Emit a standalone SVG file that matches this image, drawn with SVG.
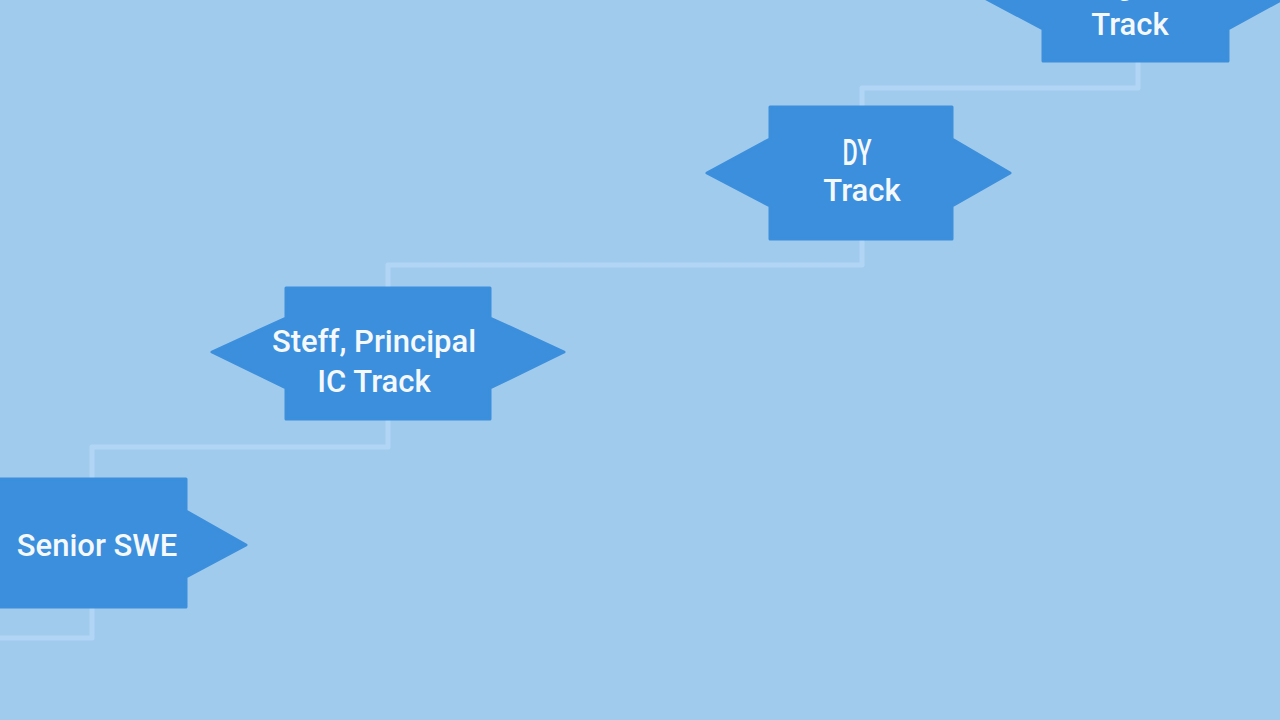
<svg xmlns="http://www.w3.org/2000/svg" width="1280" height="720" viewBox="0 0 1280 720">
  <style>
    .node { fill: #3b8fdc; stroke: #3b8fdc; stroke-width: 3; stroke-linejoin: round; }
    .label { font-family: Roboto, "Liberation Sans", sans-serif; font-size: 31px; font-weight: 500; fill: #f5f9fd; text-anchor: middle; }
    .conn { fill: none; stroke: #b1d6f5; stroke-width: 5; stroke-linejoin: round; }
  </style>
  <rect x="0" y="0" width="1280" height="720" fill="#a1cbed"/>
  <g id="connectors">
    <path class="conn" d="M-5,638 H92 V447 H388 V265 H862 V88 H1138 V62"/>
  </g>
  <g id="node-senior-swe">
    <polygon class="node" points="-10,479 186,479 186,511 246,545 186,577 186,607 -10,607"/>
    <text class="label" x="97" y="556">Senior SWE</text>
  </g>
  <g id="node-staff-principal">
    <polygon class="node" points="286,288 490,288 490,318 564,352 490,388 490,419 286,419 286,388 212,352 286,318"/>
    <text class="label" x="374" y="352">Steff, Principal</text>
    <text class="label" x="374" y="392">IC Track</text>
  </g>
  <g id="node-dm-track">
    <polygon class="node" points="770,107 952,107 952,139 1010,173 952,206 952,239 770,239 770,206 707,173 770,139"/>
    <text class="label" x="857" y="165" style="font-size:36px" textLength="29" lengthAdjust="spacingAndGlyphs">DY</text>
    <text class="label" x="862" y="201">Track</text>
  </g>
  <g id="node-top-track">
    <polygon class="node" points="1043,-72 1228,-72 1228,-39 1290,-5 1228,29 1228,61 1043,61 1043,29 979,-5 1043,-39"/>
    <text class="label" x="1130" y="-5">Mgmt</text>
    <text class="label" x="1130" y="35">Track</text>
  </g>
</svg>
